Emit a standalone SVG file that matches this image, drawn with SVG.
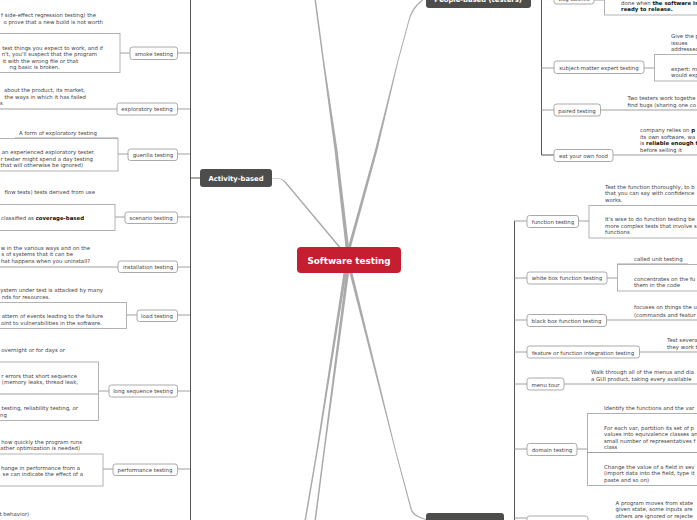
<svg xmlns="http://www.w3.org/2000/svg" width="697" height="520" viewBox="0 0 697 520">
<style>
text{font-family:"DejaVu Sans",Verdana,sans-serif;font-size:5.4px;fill:#444}
.e{text-anchor:end}
.b{font-weight:bold;fill:#111}
.n{fill:#fff;stroke:#aaa;stroke-width:1}
.nt{text-anchor:middle;fill:#444;font-size:5.4px}
.box{fill:#fff;stroke:#aaa;stroke-width:.9}
.l{fill:none;stroke:#888;stroke-width:.8}
.d{fill:none;stroke:#555;stroke-width:1}
.dark{fill:#4d4d4b}
.dt{fill:#fff;font-weight:bold;font-size:6.8px;text-anchor:middle}
.rt{fill:#c41e30}
.m{fill:#aaa;stroke:none}
</style>
<g id="connectors">
<path class="m" d="M345.500 247L349 247L337.500 150L324 60L316 0L314.500 0L322.500 60L334.500 150Z"/>
<path class="m" d="M348 247L351 247L377.500 150L398.700 60L409 22Q412 8 426 -2L426 -3Q411 6 408 22L397.700 60L375 150Z"/>
<path class="m" d="M338.500 247L340.500 247L286 182Q283 178.500 279 178.500L272 178.500L272 179L279 179Q282 179 285 183Z"/>
<path class="m" d="M346 273L349 273L325 450L316 520L314.500 520L323.500 450Z"/>
<path class="m" d="M343.500 273L346.500 273L318 450L306 520L304.500 520L316.500 450Z"/>
<path class="m" d="M349.500 273L352.500 273L395.800 450L412 510Q415 516 426 519L426 520Q414 517 411 511L394.800 450Z"/>
<path class="d" d="M190.500 0V520"/>
<path class="d" d="M190.500 178H200"/>
<path class="l" d="M177 53H190M120 53H130M177 109H190M0 109H117M177 154H190M118 154H128M177 217H190M115 217H125M177 267H190M0 267H118M177 315H190M126 315H137M177 391H190M98 391H109M177 469H190M103 469H113"/>
<path class="d" d="M541.500 0V155H554"/>
<path class="d" d="M514.500 221V520"/>
<path class="l" d="M541 68H554M644 68H654M541 110H554M600 110H697M594 0H604M613 155H697"/>
<path class="l" d="M514 221H527M578 221H589M514 278H527M607 278H617M514 320H527M606 320H697M514 352H527M640 352H697M514 384H527M564 384H697M514 449H527M577 449H587M514 518H527"/>
<path class="l" d="M15 138H118M617 264H688"/>
</g>
<g id="root"><rect class="rt" x="297" y="247" width="104" height="26" rx="4"/><text x="349" y="263.500" style="fill:#fff;font-weight:bold;font-size:8.800px;text-anchor:middle">Software testing</text></g>
<g id="activity-based"><rect class="dark" x="200" y="169" width="72" height="18" rx="3"/><text class="dt" x="236" y="181">Activity-based</text></g>
<g id="people-based"><rect class="dark" x="426" y="-10" width="105" height="18" rx="3"/><text class="dt" x="478" y="2">People-based (testers)</text></g>
<g id="bottom-topic"><rect class="dark" x="426" y="513" width="78" height="18" rx="3"/></g>

<g id="smoke-testing">
<text class="e" x="96" y="17">f side-effect regression testing) the</text><text class="e" x="103" y="24">o prove that a new build is not worth</text>
<rect class="box" x="-5" y="33.500" width="125" height="39"/>
<text class="e" x="103" y="50">test things you expect to work, and if</text><text class="e" x="97" y="56">n't, you'll suspect that the program</text><text class="e" x="78" y="63">it with the wrong file or that</text><text class="e" x="60" y="69">ng basic is broken.</text>
<rect class="n" x="130" y="47" width="47.500" height="12.500" rx="2.500"/><text class="nt" x="154" y="56">smoke testing</text></g>
<g id="exploratory-testing">
<text class="e" x="85" y="92">about the product, its market,</text><text class="e" x="86" y="99">the ways in which it has failed</text><text x="0" y="105">s</text>
<rect class="n" x="117" y="103" width="60.500" height="12" rx="2.500"/><text class="nt" x="147" y="111">exploratory testing</text></g>
<g id="guerilla-testing">
<text x="19" y="135">A form of exploratory testing</text>
<rect class="box" x="-5" y="138.500" width="123" height="32.500"/>
<text class="e" x="95" y="154">an experienced exploratory tester.</text><text class="e" x="93" y="161">r tester might spend a day testing</text><text class="e" x="83" y="167">that will otherwise be ignored)</text>
<rect class="n" x="128" y="149" width="49.500" height="11.500" rx="2.500"/><text class="nt" x="153" y="157">guerilla testing</text></g>
<g id="scenario-testing">
<text class="e" x="95" y="194">flow tests) tests derived from use</text>
<rect class="box" x="-5" y="204.500" width="120" height="26"/>
<text class="e" x="84" y="220">classified as <tspan class="b">coverage-based</tspan></text>
<rect class="n" x="125" y="212" width="52.500" height="11.500" rx="2.500"/><text class="nt" x="151" y="220">scenario testing</text></g>
<g id="installation-testing">
<text class="e" x="90" y="250">w in the various ways and on the</text><text class="e" x="73" y="256">s of systems that it can be</text><text class="e" x="90" y="263">hat happens when you uninstall?</text>
<rect class="n" x="118" y="261" width="59.500" height="11.500" rx="2.500"/><text class="nt" x="148" y="269">installation testing</text></g>
<g id="load-testing">
<text class="e" x="103" y="292">ystem under test is attacked by many</text><text class="e" x="50" y="299">nds for resources.</text>
<rect class="box" x="-5" y="302.500" width="131.500" height="26"/>
<text class="e" x="103" y="318">attern of events leading to the failure</text><text class="e" x="102" y="325">oint to vulnerabilities in the software.</text>
<rect class="n" x="137" y="310" width="40.500" height="11.500" rx="2.500"/><text class="nt" x="157" y="318">load testing</text></g>
<g id="long-sequence-testing">
<text class="e" x="65" y="352">overnight or for days or</text>
<rect class="box" x="-5" y="362" width="103.500" height="58.500"/><path class="l" d="M0 394H98"/>
<text class="e" x="77" y="378">r errors that short sequence</text><text class="e" x="78" y="384">(memory leaks, thread leak,</text><text class="e" x="78" y="410">testing, reliability testing, or</text><text x="0" y="417">ng</text>
<rect class="n" x="109" y="385" width="68.500" height="12" rx="2.500"/><text class="nt" x="143" y="393">long sequence testing</text></g>
<g id="performance-testing">
<text class="e" x="82" y="444">how quickly the program runs</text><text class="e" x="80" y="450">ather optimization is needed)</text>
<rect class="box" x="-5" y="454" width="108" height="32"/>
<text class="e" x="80" y="470">hange in performance from a</text><text class="e" x="83" y="476">se can indicate the effect of a</text>
<rect class="n" x="113" y="464" width="64.500" height="11.500" rx="2.500"/><text class="nt" x="145" y="472">performance testing</text>
<text class="e" x="29" y="516">t behavior)</text></g>

<g id="bug-bashes"><rect class="n" x="554" y="-8" width="40" height="12" rx="2.500"/><text class="nt" x="574" y="1">bug bashes</text>
<rect class="box" x="604.500" y="-10" width="100" height="25"/><text x="621" y="5">done when <tspan class="b">the software is</tspan></text><text class="b" x="621" y="11">ready to release.</text></g>
<g id="subject-matter-expert-testing"><rect class="n" x="554" y="61" width="90" height="12.500" rx="2.500"/><text class="nt" x="599" y="70">subject-matter expert testing</text>
<text x="671" y="38">Give the p</text><text x="671" y="45">issues</text><text x="671" y="51">addressed</text>
<rect class="box" x="654.500" y="54.500" width="50" height="26.500"/><text x="671" y="71">expert: m</text><text x="671" y="77">would exp</text></g>
<g id="paired-testing"><rect class="n" x="554" y="104" width="46.500" height="12" rx="2.500"/><text class="nt" x="577" y="113">paired testing</text>
<text x="627.500" y="100">Two testers work togethe</text><text x="627.500" y="107">find bugs (sharing one co</text></g>
<g id="eat-your-own-food"><rect class="n" x="554" y="149.500" width="59" height="12" rx="2.500"/><text class="nt" x="583.500" y="158">eat your own food</text>
<text x="640" y="132">company relies on <tspan class="b">p</tspan></text><text x="640" y="139">its own software, wa</text><text x="640" y="145">is <tspan class="b">reliable enough t</tspan></text><text x="640" y="152">before selling it</text></g>

<g id="function-testing"><rect class="n" x="527" y="215.500" width="51.500" height="12" rx="2.500"/><text class="nt" x="553" y="224">function testing</text>
<text x="605" y="189">Test the function thoroughly, to b</text><text x="605" y="195">that you can say with confidence</text><text x="605" y="202">works.</text>
<rect class="box" x="589" y="205.500" width="110" height="32.500"/>
<text x="605" y="221">It's wise to do function testing be</text><text x="605" y="228">more complex tests that involve s</text><text x="605" y="234">functions</text></g>
<g id="white-box-function-testing"><rect class="n" x="527" y="272" width="80" height="12" rx="2.500"/><text class="nt" x="567" y="280">white box function testing</text>
<text x="634" y="261">called unit testing</text>
<rect class="box" x="617.500" y="264.500" width="85" height="26.500"/>
<text x="634" y="281">concentrates on the fu</text><text x="634" y="287">them in the code</text></g>
<g id="black-box-function-testing"><rect class="n" x="527" y="314.500" width="79.500" height="12" rx="2.500"/><text class="nt" x="566.500" y="323">black box function testing</text>
<text x="634" y="309">focuses on things the u</text><text x="634" y="317">(commands and featur</text></g>
<g id="feature-or-function-integration-testing"><rect class="n" x="527" y="346" width="112.500" height="12" rx="2.500"/><text class="nt" x="583" y="355">feature or function integration testing</text>
<text x="667" y="342">Test severa</text><text x="667" y="349">they work t</text></g>
<g id="menu-tour"><rect class="n" x="527" y="378" width="37" height="12" rx="2.500"/><text class="nt" x="545.500" y="387">menu tour</text>
<text x="591" y="374">Walk through all of the menus and dia</text><text x="591" y="381">a GUI product, taking every available</text></g>
<g id="domain-testing"><rect class="n" x="527" y="443.500" width="50" height="12" rx="2.500"/><text class="nt" x="552" y="452">domain testing</text>
<text x="604" y="410">Identify the functions and the var</text>
<rect class="box" x="587.500" y="413.500" width="115" height="72"/><path class="l" d="M587 452.500H697"/>
<text x="604" y="430">For each var, partition its set of p</text><text x="604" y="436">values into equivalence classes an</text><text x="604" y="443">small number of representatives f</text><text x="604" y="449">class</text>
<text x="604" y="469">Change the value of a field in sev</text><text x="604" y="475">(import data into the field, type it</text><text x="604" y="482">paste and so on)</text></g>
<g id="state-testing"><rect class="n" x="527" y="516" width="61" height="12" rx="2.500"/>
<text x="615.500" y="505">A program moves from state</text><text x="615.500" y="511">given state, some inputs are</text><text x="615.500" y="518">others are ignored or rejecte</text></g>
</svg>
